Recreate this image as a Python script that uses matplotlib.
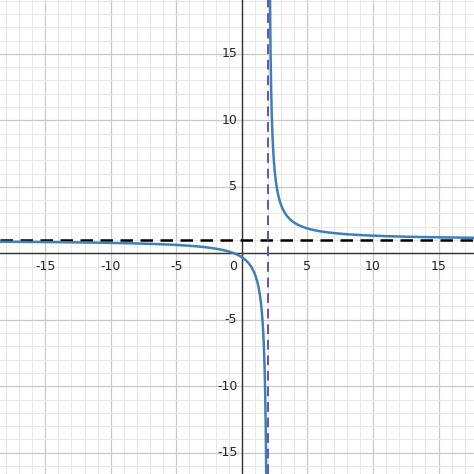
import numpy as np
import matplotlib
matplotlib.use("Agg")
import matplotlib.pyplot as plt

xticks = [-15, -10, -5, 5, 10, 15]
yticks = [-15, -10, -5, 5, 10, 15]
asym_x = 2
asym_y = 1
k = 2.6  # y = asym_y + k/(x - asym_x)

fig = plt.figure(figsize=(4.74, 4.74), dpi=100)
ax = fig.add_axes([0, 0, 1, 1])
xmin, xmax = -18.45, 17.7
ymin, ymax = -16.6, 19.05
ax.set_xlim(xmin, xmax); ax.set_ylim(ymin, ymax)
for v in range(-18, 19):
    major = v % 5 == 0
    ax.axvline(v, color='#c8c8c8' if major else '#e6e6e6', lw=0.9 if major else 0.7, zorder=0)
for v in range(-16, 20):
    major = v % 5 == 0
    ax.axhline(v, color='#c8c8c8' if major else '#e6e6e6', lw=0.9 if major else 0.7, zorder=0)
ax.axhline(0, color='#333333', lw=1, zorder=1)
ax.axvline(0, color='#333333', lw=1, zorder=1)
for t in xticks:
    ax.text(t, -1.0, str(t), ha='center', va='center', fontsize=9, color='#222')
for t in yticks:
    ax.text(-0.35, t, str(t), ha='right', va='center', fontsize=9, color='#222')
ax.text(-0.4, -1.0, '0', ha='right', va='center', fontsize=9, color='#222')

x1 = np.linspace(xmin, asym_x - 0.001, 3000)
x2 = np.linspace(asym_x + 0.001, xmax, 3000)
for xs in (x1, x2):
    ax.plot(xs, asym_y + k / (xs - asym_x), color='#3f7fb8', lw=1.8, zorder=3)
ax.axhline(asym_y, color='black', lw=1.8, ls=(0, (5, 3)), zorder=2)
ax.axvline(asym_x, color='#6a4fb0', lw=1.4, ls=(0, (5, 3)), zorder=2)
ax.set_axis_off()
fig.savefig('out.png', dpi=100)
